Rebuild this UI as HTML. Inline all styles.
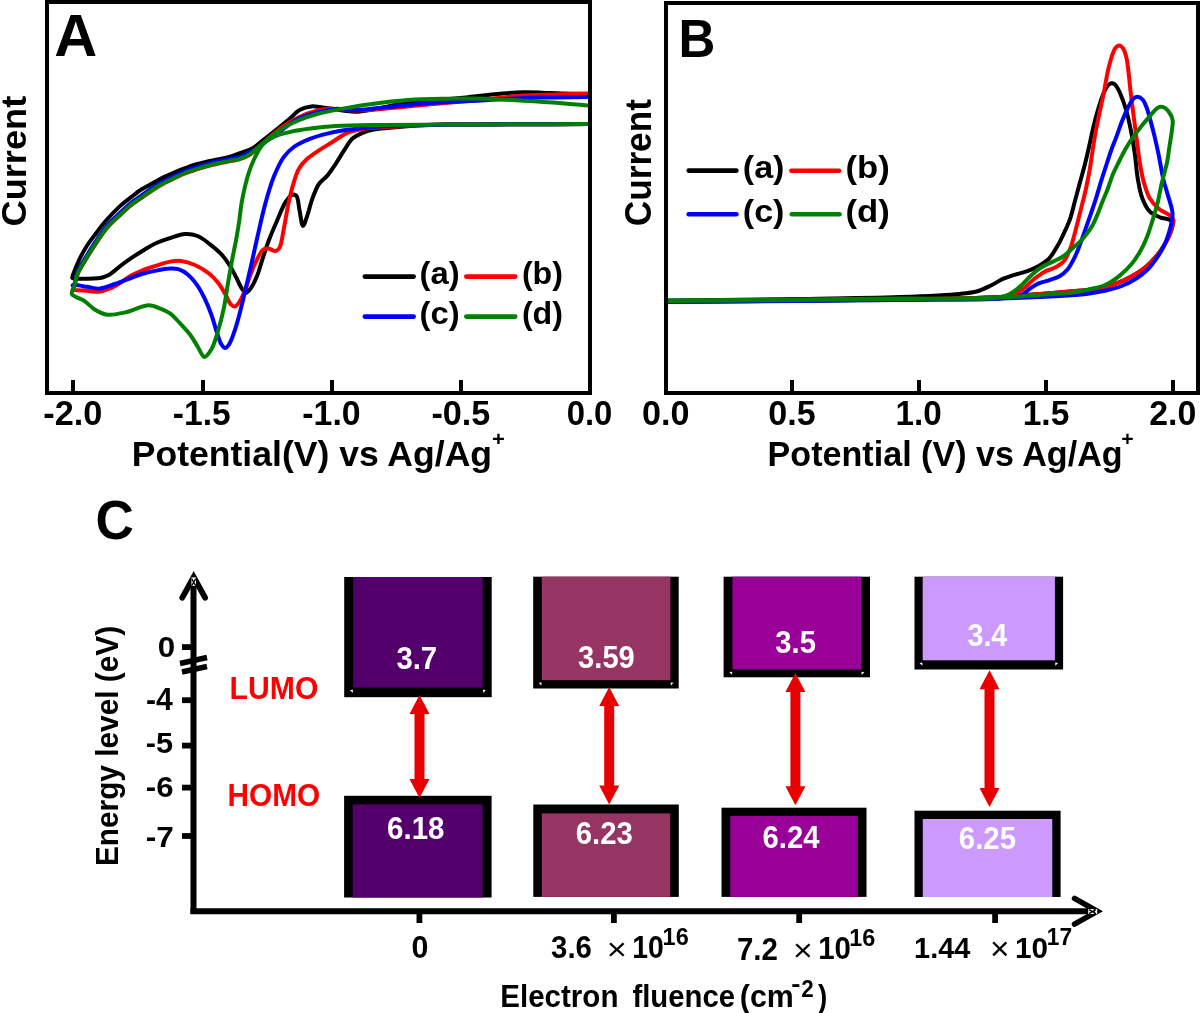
<!DOCTYPE html>
<html><head><meta charset="utf-8"><style>
html,body{margin:0;padding:0;background:#fff;}
body{width:1200px;height:1013px;overflow:hidden;font-family:"Liberation Sans",sans-serif;}
svg{display:block;will-change:transform;}
</style></head><body>
<svg width="1200" height="1013" viewBox="0 0 1200 1013">
<rect width="1200" height="1013" fill="#fff"/>
<defs>
<clipPath id="clipA"><rect x="49" y="4" width="539" height="387"/></clipPath>
<clipPath id="clipB"><rect x="668" y="5" width="528" height="386"/></clipPath>
</defs>
<rect x="47" y="2" width="543" height="391" fill="none" stroke="#000" stroke-width="4"/>
<line x1="73" y1="391" x2="73" y2="380" stroke="#000" stroke-width="4"/>
<line x1="203" y1="391" x2="203" y2="380" stroke="#000" stroke-width="4"/>
<line x1="332" y1="391" x2="332" y2="380" stroke="#000" stroke-width="4"/>
<line x1="461" y1="391" x2="461" y2="380" stroke="#000" stroke-width="4"/>
<path d="M592.00 93.60 C592.00 93.60 570.93 93.81 562.00 93.60 C554.80 93.43 548.98 92.92 542.50 92.70 C536.08 92.48 530.34 92.14 523.30 92.30 C514.69 92.49 504.16 93.34 494.60 94.20 C485.00 95.07 475.57 96.46 465.80 97.50 C455.71 98.57 445.28 99.49 435.00 100.50 C424.68 101.52 414.13 102.15 404.00 103.60 C394.14 105.01 383.66 107.56 375.00 109.00 C368.01 110.17 361.48 111.65 356.00 111.80 C351.84 111.92 348.67 111.28 345.00 110.80 C341.27 110.32 337.55 109.47 333.80 108.90 C330.05 108.33 326.26 107.82 322.50 107.40 C318.76 106.99 315.01 106.02 311.30 106.40 C307.50 106.79 303.56 107.84 300.00 109.80 C296.01 112.00 292.56 116.32 288.80 119.50 C285.06 122.66 281.36 125.69 277.50 128.80 C273.50 132.02 269.40 135.24 265.20 138.50 C260.84 141.88 256.39 146.15 251.80 148.70 C247.70 150.98 243.26 152.02 239.20 153.50 C235.45 154.87 231.96 156.29 228.30 157.30 C224.72 158.28 221.10 158.77 217.50 159.50 C213.90 160.23 210.30 160.89 206.70 161.70 C203.07 162.52 199.40 163.32 195.80 164.40 C192.17 165.49 188.59 166.86 185.00 168.20 C181.39 169.55 177.79 170.98 174.20 172.50 C170.56 174.04 166.89 175.62 163.30 177.40 C159.66 179.21 156.10 181.32 152.50 183.30 C148.90 185.29 145.23 187.02 141.70 189.30 C137.99 191.69 134.40 194.62 130.80 197.40 C127.16 200.21 123.78 202.63 120.00 206.10 C115.28 210.44 109.32 216.79 105.00 221.80 C101.35 226.03 98.59 229.88 95.50 234.00 C92.42 238.11 89.22 242.20 86.50 246.50 C83.82 250.74 81.36 255.33 79.30 259.60 C77.42 263.48 75.73 267.64 74.50 271.00 C73.55 273.59 71.67 276.91 72.30 278.00 C72.69 278.67 73.83 278.46 75.00 278.60 C77.11 278.84 80.92 278.70 84.00 278.70 C87.25 278.70 91.09 278.76 94.00 278.60 C96.26 278.48 98.11 278.36 100.00 278.00 C101.76 277.67 103.38 277.19 105.00 276.60 C106.61 276.02 107.86 275.62 109.70 274.50 C112.86 272.57 117.60 268.00 121.60 265.00 C125.50 262.08 129.54 259.27 133.40 256.70 C137.00 254.30 140.43 252.17 144.00 250.00 C147.56 247.84 150.80 245.58 154.80 243.70 C159.35 241.55 164.90 239.72 170.00 238.10 C175.03 236.50 180.37 234.25 185.20 234.00 C189.52 233.78 193.63 234.44 197.60 236.00 C201.93 237.70 206.07 241.29 210.00 244.30 C213.90 247.29 217.83 250.48 221.10 254.00 C224.27 257.40 226.88 261.12 229.40 265.00 C231.96 268.95 234.17 273.45 236.30 277.50 C238.28 281.26 239.86 285.81 241.80 288.50 C243.15 290.37 244.51 292.70 246.00 292.70 C247.71 292.70 249.83 289.52 251.50 287.20 C253.60 284.27 255.31 280.27 257.00 276.10 C259.04 271.08 260.60 264.77 262.50 259.00 C264.46 253.07 266.29 247.12 268.60 241.00 C271.08 234.44 274.15 227.44 277.00 220.90 C279.75 214.58 282.38 207.03 285.40 202.40 C287.52 199.14 289.92 195.64 292.10 194.90 C293.52 194.42 295.18 194.61 296.30 195.70 C298.42 197.77 298.48 205.77 299.60 210.80 C300.72 215.84 301.57 225.77 303.00 225.90 C304.19 226.01 305.84 219.71 307.20 215.90 C308.93 211.06 310.21 204.49 312.20 199.10 C314.13 193.87 316.09 188.10 318.90 184.00 C321.28 180.53 324.63 178.76 327.30 175.60 C330.25 172.11 332.96 167.90 335.70 163.80 C338.56 159.52 341.24 154.68 344.10 150.40 C346.84 146.30 349.20 141.60 352.50 138.60 C355.46 135.91 358.96 134.32 362.60 132.80 C366.43 131.21 370.33 130.28 375.00 129.40 C380.83 128.30 388.10 127.92 395.00 127.30 C402.39 126.64 409.90 126.04 418.00 125.60 C427.03 125.11 434.83 124.83 446.70 124.60 C466.09 124.22 498.46 124.42 523.30 124.30 C546.82 124.19 592.00 123.90 592.00 123.90" fill="none" stroke="#000" stroke-width="4.0" stroke-linejoin="round" stroke-linecap="round" clip-path="url(#clipA)"/>
<path d="M592.00 93.60 C592.00 93.60 566.86 94.17 555.00 94.50 C544.02 94.81 534.35 94.76 523.30 95.50 C511.12 96.31 498.92 98.07 485.00 99.40 C468.33 100.99 448.73 102.58 430.00 104.30 C410.43 106.10 384.65 109.20 370.00 110.00 C361.56 110.46 356.66 110.52 350.00 110.30 C343.33 110.08 336.17 108.42 330.00 108.70 C324.62 108.95 319.94 109.98 315.00 111.30 C309.94 112.65 304.57 114.75 300.00 116.80 C295.92 118.63 292.52 120.52 288.80 122.80 C284.85 125.22 280.71 128.15 277.00 131.00 C273.46 133.73 270.23 136.69 267.00 139.50 C263.91 142.19 260.92 144.93 258.00 147.50 C255.26 149.92 253.03 152.55 250.00 154.50 C246.80 156.56 242.88 158.23 239.20 159.40 C235.64 160.53 231.92 160.78 228.30 161.50 C224.69 162.22 221.09 162.89 217.50 163.70 C213.89 164.52 210.30 165.41 206.70 166.40 C203.06 167.40 199.41 168.53 195.80 169.70 C192.18 170.87 188.57 171.98 185.00 173.40 C181.37 174.84 177.79 176.60 174.20 178.30 C170.56 180.03 166.89 181.74 163.30 183.70 C159.65 185.70 156.06 187.88 152.50 190.20 C148.86 192.57 145.31 195.27 141.70 197.80 C138.08 200.34 134.34 202.58 130.80 205.40 C127.09 208.35 123.71 211.71 120.00 215.20 C115.93 219.03 111.35 222.90 107.40 227.50 C103.14 232.45 99.37 238.31 95.50 244.10 C91.46 250.16 86.91 257.65 83.70 263.10 C81.34 267.11 79.36 269.89 77.80 273.70 C76.15 277.72 75.28 283.83 74.20 286.70 C73.64 288.20 72.28 289.51 72.60 290.00 C72.88 290.43 74.15 289.87 75.40 289.90 C77.95 289.95 83.10 290.50 87.00 290.80 C90.97 291.10 95.12 292.11 99.00 291.70 C102.78 291.30 106.50 289.95 110.00 288.50 C113.50 287.05 116.63 285.05 120.00 283.00 C123.63 280.79 127.25 277.71 131.00 275.60 C134.59 273.58 138.15 272.03 142.00 270.50 C146.06 268.88 150.34 267.62 154.80 266.20 C159.64 264.66 165.30 262.45 170.00 261.60 C173.92 260.89 177.16 260.47 181.00 260.90 C185.40 261.39 190.40 263.02 194.90 265.00 C199.65 267.09 204.69 270.15 208.70 273.30 C212.40 276.20 215.53 279.50 218.30 283.00 C221.01 286.41 223.08 290.35 225.20 294.00 C227.23 297.48 228.74 302.38 230.80 304.40 C232.09 305.66 233.60 306.71 234.90 306.50 C236.38 306.27 237.75 304.17 239.10 302.30 C241.04 299.61 242.89 295.36 244.60 291.30 C246.60 286.57 248.19 280.50 250.10 275.50 C251.87 270.87 253.41 266.59 255.60 262.30 C257.85 257.89 260.69 251.27 263.50 249.40 C265.14 248.31 266.81 248.42 268.60 248.60 C270.71 248.81 273.40 251.40 275.30 251.10 C276.95 250.84 278.33 249.65 279.50 247.80 C281.71 244.31 282.31 236.06 283.70 229.30 C285.37 221.19 286.88 210.69 288.70 202.40 C290.28 195.19 291.93 188.28 293.80 182.30 C295.35 177.34 296.49 172.88 298.80 168.90 C301.01 165.09 303.95 161.83 307.20 158.80 C310.60 155.63 314.81 153.13 318.90 150.40 C323.19 147.53 327.91 144.80 332.40 142.00 C336.88 139.20 341.04 135.70 345.80 133.60 C350.54 131.51 355.92 130.39 360.90 129.40 C365.64 128.46 369.88 128.16 375.00 127.70 C381.08 127.15 387.96 126.89 395.00 126.50 C402.87 126.06 411.53 125.52 420.00 125.20 C428.75 124.87 435.51 124.75 446.70 124.60 C465.66 124.35 498.46 124.42 523.30 124.30 C546.82 124.19 592.00 123.90 592.00 123.90" fill="none" stroke="#ff0000" stroke-width="4.0" stroke-linejoin="round" stroke-linecap="round" clip-path="url(#clipA)"/>
<path d="M592.00 96.90 C592.00 96.90 566.86 97.31 555.00 97.50 C544.03 97.68 534.36 97.58 523.30 98.00 C511.13 98.46 499.06 99.52 485.00 100.30 C467.78 101.25 446.65 101.75 427.50 103.20 C408.32 104.65 384.23 107.86 370.00 109.00 C361.62 109.67 355.88 110.35 350.00 110.20 C345.34 110.08 341.85 108.68 337.50 108.80 C332.72 108.93 327.96 110.05 322.50 111.30 C315.72 112.85 306.04 115.25 300.00 117.90 C295.53 119.86 292.50 122.07 289.00 124.50 C285.50 126.93 282.46 129.94 279.00 132.50 C275.47 135.11 271.55 137.46 268.00 140.00 C264.56 142.46 261.21 145.38 258.00 147.50 C255.24 149.32 252.91 150.61 250.00 152.10 C246.71 153.79 242.88 155.83 239.20 157.00 C235.64 158.13 231.92 158.38 228.30 159.10 C224.69 159.82 221.09 160.49 217.50 161.30 C213.89 162.12 210.30 163.01 206.70 164.00 C203.06 165.00 199.41 166.13 195.80 167.30 C192.18 168.47 188.57 169.58 185.00 171.00 C181.37 172.44 177.79 174.20 174.20 175.90 C170.56 177.63 166.89 179.34 163.30 181.30 C159.65 183.30 156.06 185.48 152.50 187.80 C148.86 190.17 145.31 192.87 141.70 195.40 C138.08 197.94 134.34 200.18 130.80 203.00 C127.09 205.95 123.71 209.31 120.00 212.80 C115.93 216.63 111.35 220.50 107.40 225.10 C103.14 230.05 99.37 235.91 95.50 241.70 C91.46 247.76 86.91 255.25 83.70 260.70 C81.34 264.71 79.36 267.49 77.80 271.30 C76.15 275.32 75.56 282.47 74.20 284.30 C73.69 284.98 72.55 285.14 72.60 285.30 C72.66 285.49 74.15 285.05 75.40 285.10 C77.95 285.19 83.10 286.21 87.00 286.80 C90.97 287.40 94.75 288.97 99.00 288.70 C103.98 288.38 109.70 285.77 115.00 284.00 C120.37 282.21 126.16 279.79 131.00 278.00 C135.01 276.52 138.16 275.16 142.00 274.00 C146.07 272.77 150.33 271.79 154.80 270.90 C159.63 269.94 165.69 268.66 170.00 268.50 C173.17 268.38 175.52 268.34 178.30 269.20 C181.52 270.19 184.97 272.22 188.00 274.70 C191.47 277.55 194.83 281.85 197.60 285.80 C200.32 289.69 202.32 293.70 204.50 298.20 C206.95 303.27 209.33 309.11 211.40 314.80 C213.51 320.61 215.21 327.46 217.00 332.70 C218.42 336.86 219.39 341.13 221.10 343.80 C222.30 345.67 223.82 347.89 225.20 347.90 C226.59 347.91 228.10 345.76 229.40 343.80 C231.48 340.69 233.19 335.04 234.90 330.00 C236.90 324.13 238.63 317.39 240.40 310.60 C242.34 303.18 244.15 295.01 246.00 287.20 C247.85 279.38 249.69 271.65 251.50 263.70 C253.36 255.53 254.95 247.78 257.00 238.80 C259.43 228.18 262.24 214.87 265.20 204.10 C267.82 194.54 270.30 185.48 273.60 177.30 C276.56 169.96 279.85 162.44 283.70 157.10 C286.76 152.85 289.73 149.94 293.80 147.00 C298.45 143.64 304.82 140.85 310.50 138.60 C316.00 136.42 321.67 134.99 327.30 133.60 C332.87 132.23 337.63 131.29 344.10 130.30 C352.82 128.97 363.72 127.76 375.00 126.90 C388.58 125.87 406.94 125.37 420.00 125.00 C430.05 124.71 435.51 124.71 446.70 124.60 C465.66 124.42 498.46 124.42 523.30 124.30 C546.82 124.19 592.00 123.90 592.00 123.90" fill="none" stroke="#0000ff" stroke-width="4.0" stroke-linejoin="round" stroke-linecap="round" clip-path="url(#clipA)"/>
<path d="M592.00 105.80 C592.00 105.80 572.40 104.01 561.70 103.20 C549.66 102.29 536.09 101.43 523.30 100.70 C510.53 99.97 497.77 99.12 485.00 98.80 C472.24 98.48 459.47 98.60 446.70 98.80 C433.91 99.00 421.07 99.10 408.30 100.00 C395.51 100.90 381.50 102.64 370.00 104.20 C360.51 105.49 352.66 106.84 344.10 108.40 C335.63 109.94 326.77 111.40 318.90 113.50 C311.76 115.40 305.11 117.59 298.80 120.20 C292.86 122.66 287.15 125.42 282.00 128.60 C277.14 131.60 272.71 135.36 268.60 138.60 C264.95 141.47 261.72 144.32 258.50 147.00 C255.54 149.46 253.15 152.12 250.00 154.10 C246.74 156.15 242.88 157.83 239.20 159.00 C235.64 160.13 231.92 160.38 228.30 161.10 C224.69 161.82 221.09 162.49 217.50 163.30 C213.89 164.12 210.30 165.01 206.70 166.00 C203.06 167.00 199.41 168.13 195.80 169.30 C192.18 170.47 188.57 171.58 185.00 173.00 C181.37 174.44 177.79 176.20 174.20 177.90 C170.56 179.63 166.89 181.34 163.30 183.30 C159.65 185.30 156.06 187.48 152.50 189.80 C148.86 192.17 145.31 194.87 141.70 197.40 C138.08 199.94 134.34 202.18 130.80 205.00 C127.09 207.95 123.71 211.31 120.00 214.80 C115.93 218.63 111.35 222.50 107.40 227.10 C103.14 232.05 99.37 237.91 95.50 243.70 C91.46 249.76 86.91 257.25 83.70 262.70 C81.34 266.71 79.36 269.49 77.80 273.30 C76.15 277.32 75.31 282.54 74.20 286.30 C73.34 289.21 71.18 292.16 71.80 294.00 C72.29 295.47 74.33 296.04 76.00 297.00 C78.13 298.23 80.97 298.82 83.70 300.50 C87.35 302.75 91.37 307.60 95.50 310.00 C99.30 312.21 102.96 314.15 107.40 314.70 C112.66 315.36 118.91 313.74 125.20 312.40 C132.57 310.83 142.26 305.32 148.80 305.30 C153.44 305.29 157.03 307.37 160.70 308.80 C164.05 310.11 166.95 311.21 170.00 313.40 C173.74 316.08 177.51 320.67 181.00 324.40 C184.40 328.04 187.87 331.69 190.70 335.50 C193.36 339.07 195.28 342.90 197.60 346.50 C199.88 350.03 202.08 356.72 204.50 356.90 C206.70 357.07 209.38 352.67 211.40 349.30 C214.26 344.54 216.26 336.70 218.30 330.00 C220.45 322.93 222.31 315.52 223.90 307.90 C225.57 299.88 226.60 291.18 228.00 283.00 C229.37 275.05 230.77 267.08 232.20 259.50 C233.54 252.37 235.10 245.42 236.30 238.80 C237.40 232.73 238.31 227.25 239.20 221.30 C240.12 215.13 240.43 209.31 241.70 202.40 C243.27 193.84 245.83 182.07 248.40 173.90 C250.42 167.48 252.47 162.27 255.10 157.10 C257.56 152.26 260.14 147.15 263.50 143.70 C266.44 140.68 269.65 138.86 273.60 137.00 C278.35 134.76 284.50 133.27 290.40 131.90 C296.75 130.42 303.41 129.53 310.50 128.60 C318.41 127.56 326.36 126.71 335.70 126.10 C347.34 125.35 359.94 125.16 375.00 124.90 C395.33 124.55 422.41 124.70 446.70 124.60 C471.81 124.50 498.46 124.42 523.30 124.30 C546.82 124.19 592.00 123.90 592.00 123.90" fill="none" stroke="#008000" stroke-width="4.0" stroke-linejoin="round" stroke-linecap="round" clip-path="url(#clipA)"/>
<text transform="translate(54.21,56.39) scale(1.0174,1)" font-size="58.53" font-weight="bold" fill="#000" font-family="Liberation Sans, sans-serif">A</text>
<text transform="translate(25.55,226.45) rotate(-90) scale(1.0201,1)" font-size="35.49" font-weight="bold" fill="#000" font-family="Liberation Sans, sans-serif">Current</text>
<text transform="translate(43.33,425.45) scale(0.9913,1)" font-size="34.51" font-weight="bold" fill="#000" font-family="Liberation Sans, sans-serif">-2.0</text>
<text transform="translate(172.86,425.45) scale(0.9604,1)" font-size="35.00" font-weight="bold" fill="#000" font-family="Liberation Sans, sans-serif">-1.5</text>
<text transform="translate(302.35,425.45) scale(0.9807,1)" font-size="34.51" font-weight="bold" fill="#000" font-family="Liberation Sans, sans-serif">-1.0</text>
<text transform="translate(431.43,425.45) scale(0.9916,1)" font-size="34.51" font-weight="bold" fill="#000" font-family="Liberation Sans, sans-serif">-0.5</text>
<text transform="translate(566.69,425.45) scale(0.9512,1)" font-size="34.51" font-weight="bold" fill="#000" font-family="Liberation Sans, sans-serif">0.0</text>
<text transform="translate(131.71,465.90) scale(1.0112,1)" font-size="35.20" font-weight="bold" fill="#000" font-family="Liberation Sans, sans-serif">Potential(V) vs Ag/Ag</text>
<text transform="translate(492.12,446.15) scale(1.0686,1)" font-size="20.59" font-weight="bold" fill="#000" font-family="Liberation Sans, sans-serif">+</text>
<line x1="364.8" y1="276.6" x2="413.7" y2="276.6" stroke="#000" stroke-width="4.6" stroke-linecap="round"/>
<line x1="466.3" y1="276.6" x2="515.2" y2="276.6" stroke="#ff0000" stroke-width="4.6" stroke-linecap="round"/>
<line x1="364.8" y1="316.6" x2="413.7" y2="316.6" stroke="#0000ff" stroke-width="4.6" stroke-linecap="round"/>
<line x1="466.3" y1="316.6" x2="515.2" y2="316.6" stroke="#008000" stroke-width="4.6" stroke-linecap="round"/>
<text transform="translate(419.56,284.40) scale(1.0773,1)" font-size="30.50" font-weight="bold" fill="#000" font-family="Liberation Sans, sans-serif">(a)</text>
<text transform="translate(521.89,284.40) scale(1.0558,1)" font-size="30.50" font-weight="bold" fill="#000" font-family="Liberation Sans, sans-serif">(b)</text>
<text transform="translate(419.56,324.40) scale(1.0773,1)" font-size="30.50" font-weight="bold" fill="#000" font-family="Liberation Sans, sans-serif">(c)</text>
<text transform="translate(521.89,324.40) scale(1.0558,1)" font-size="30.50" font-weight="bold" fill="#000" font-family="Liberation Sans, sans-serif">(d)</text>
<rect x="666" y="3" width="532" height="390" fill="none" stroke="#000" stroke-width="4"/>
<line x1="792" y1="391" x2="792" y2="380" stroke="#000" stroke-width="4"/>
<line x1="919" y1="391" x2="919" y2="380" stroke="#000" stroke-width="4"/>
<line x1="1046" y1="391" x2="1046" y2="380" stroke="#000" stroke-width="4"/>
<line x1="1173" y1="391" x2="1173" y2="380" stroke="#000" stroke-width="4"/>
<path d="M668.00 300.50 C668.00 300.50 759.05 299.64 800.00 299.00 C835.64 298.44 870.91 298.04 900.00 297.00 C922.55 296.19 946.02 295.34 960.00 293.90 C967.57 293.12 972.10 292.69 977.40 291.20 C982.14 289.87 986.12 287.85 990.40 285.80 C994.79 283.70 999.18 280.57 1003.40 278.70 C1007.12 277.05 1010.49 276.12 1014.30 274.90 C1018.43 273.58 1023.21 272.61 1027.30 271.10 C1031.15 269.68 1034.67 268.21 1038.20 266.20 C1041.91 264.09 1045.85 261.83 1049.00 258.60 C1052.43 255.09 1055.13 250.02 1057.70 245.60 C1060.18 241.34 1062.15 237.00 1064.20 232.60 C1066.26 228.17 1068.29 223.97 1070.00 219.10 C1071.92 213.64 1073.27 207.31 1074.90 201.30 C1076.57 195.15 1078.23 188.75 1079.90 182.60 C1081.53 176.59 1083.35 170.47 1084.80 164.80 C1086.12 159.65 1086.94 155.84 1088.30 150.00 C1090.26 141.56 1092.75 128.73 1095.40 119.00 C1097.80 110.17 1100.70 100.05 1103.30 94.00 C1104.88 90.32 1106.36 87.31 1108.00 85.50 C1109.04 84.36 1110.08 83.49 1111.20 83.30 C1112.25 83.12 1113.52 83.55 1114.50 84.20 C1115.67 84.97 1116.61 86.60 1117.50 88.00 C1118.46 89.51 1119.06 90.82 1120.00 93.00 C1121.65 96.82 1124.15 103.32 1125.90 109.20 C1127.92 115.96 1129.61 123.98 1131.10 131.40 C1132.58 138.78 1133.71 145.95 1134.80 153.60 C1135.96 161.72 1136.45 171.00 1137.80 178.80 C1138.99 185.67 1140.03 192.31 1142.20 198.00 C1144.12 203.02 1146.36 208.12 1149.60 211.40 C1152.46 214.30 1156.45 215.82 1160.00 217.30 C1163.36 218.70 1168.26 218.62 1170.30 220.20 C1171.61 221.21 1172.27 222.40 1172.50 224.00 C1172.84 226.33 1171.43 229.96 1170.30 233.10 C1168.98 236.76 1166.90 240.79 1164.70 244.50 C1162.40 248.37 1159.77 252.15 1156.70 255.80 C1153.40 259.73 1149.53 263.80 1145.40 267.20 C1141.23 270.64 1136.71 273.55 1131.80 276.30 C1126.53 279.25 1120.48 282.10 1114.70 284.20 C1109.11 286.23 1103.83 287.68 1097.70 288.80 C1090.73 290.07 1083.38 290.23 1075.00 291.00 C1064.59 291.95 1052.06 293.03 1040.00 294.00 C1027.11 295.04 1016.35 296.18 1000.00 297.00 C974.18 298.29 940.25 298.80 900.00 299.50 C838.70 300.57 668.00 301.80 668.00 301.80" fill="none" stroke="#000" stroke-width="4.0" stroke-linejoin="round" stroke-linecap="round" clip-path="url(#clipB)"/>
<path d="M668.00 301.80 C668.00 301.80 839.08 300.42 900.00 299.50 C939.60 298.90 980.06 298.95 998.00 297.50 C1004.84 296.95 1007.84 297.00 1012.10 295.50 C1016.12 294.08 1019.50 291.58 1023.00 289.00 C1026.75 286.24 1030.10 282.23 1033.80 279.30 C1037.34 276.49 1040.96 273.73 1044.70 271.70 C1048.21 269.79 1052.20 269.16 1055.50 267.30 C1058.68 265.50 1061.87 263.58 1064.20 260.80 C1066.67 257.85 1068.42 252.85 1069.70 249.90 C1070.54 247.97 1070.82 247.12 1071.50 245.00 C1072.71 241.22 1074.42 234.63 1075.90 229.00 C1077.55 222.76 1079.25 215.79 1080.90 209.20 C1082.55 202.63 1084.33 196.09 1085.80 189.50 C1087.26 182.93 1088.55 176.30 1089.70 169.70 C1090.85 163.14 1091.65 156.59 1092.70 150.00 C1093.75 143.36 1094.58 137.57 1096.00 130.00 C1097.88 119.96 1101.02 106.26 1103.30 95.10 C1105.40 84.83 1106.91 73.94 1109.20 65.50 C1110.97 58.98 1112.76 51.70 1115.10 48.50 C1116.33 46.81 1117.76 45.51 1119.10 45.50 C1120.46 45.49 1122.08 46.98 1123.20 48.50 C1124.78 50.64 1125.61 54.31 1126.50 58.00 C1127.67 62.88 1128.23 69.85 1128.90 75.40 C1129.51 80.47 1129.75 84.29 1130.40 90.00 C1131.33 98.15 1132.93 110.44 1134.10 119.60 C1135.11 127.53 1136.02 134.40 1137.00 141.80 C1137.98 149.20 1138.81 157.03 1140.00 164.00 C1141.08 170.28 1142.07 176.06 1143.70 181.80 C1145.29 187.39 1146.91 193.40 1149.60 198.00 C1151.99 202.10 1155.07 205.44 1158.50 208.40 C1161.96 211.38 1167.73 213.45 1170.30 215.80 C1171.88 217.25 1173.10 218.38 1173.50 220.00 C1173.93 221.74 1172.99 223.93 1172.50 226.00 C1171.96 228.28 1171.33 230.50 1170.30 233.10 C1168.95 236.50 1166.90 240.79 1164.70 244.50 C1162.40 248.37 1159.77 252.15 1156.70 255.80 C1153.40 259.73 1149.53 263.80 1145.40 267.20 C1141.23 270.64 1136.71 273.55 1131.80 276.30 C1126.53 279.25 1120.48 282.10 1114.70 284.20 C1109.11 286.23 1103.83 287.68 1097.70 288.80 C1090.73 290.07 1083.38 290.23 1075.00 291.00 C1064.59 291.95 1052.06 293.03 1040.00 294.00 C1027.11 295.04 1016.35 296.18 1000.00 297.00 C974.18 298.29 940.25 298.80 900.00 299.50 C838.70 300.57 668.00 301.80 668.00 301.80" fill="none" stroke="#ff0000" stroke-width="4.0" stroke-linejoin="round" stroke-linecap="round" clip-path="url(#clipB)"/>
<path d="M668.00 302.00 C668.00 302.00 836.93 300.85 900.00 300.00 C943.43 299.42 992.56 300.15 1010.00 298.00 C1015.54 297.32 1017.54 297.01 1020.80 295.50 C1024.03 294.00 1026.56 291.01 1029.50 289.00 C1032.36 287.05 1035.04 285.03 1038.20 283.60 C1041.52 282.10 1045.42 281.55 1049.00 280.30 C1052.65 279.02 1056.73 277.91 1059.90 276.00 C1062.83 274.24 1065.25 272.16 1067.50 269.50 C1070.03 266.50 1072.19 262.07 1074.00 258.60 C1075.56 255.61 1076.53 253.34 1077.90 250.00 C1079.74 245.50 1081.85 239.33 1083.80 233.90 C1085.79 228.37 1087.74 222.78 1089.70 217.10 C1091.71 211.28 1093.76 205.48 1095.70 199.40 C1097.74 193.00 1099.64 185.90 1101.60 179.60 C1103.40 173.81 1105.30 168.19 1107.00 163.00 C1108.51 158.40 1109.79 154.19 1111.30 150.00 C1112.73 146.00 1114.20 142.66 1115.80 138.40 C1117.75 133.22 1119.99 126.39 1122.10 121.10 C1123.93 116.51 1125.63 112.27 1127.60 108.40 C1129.36 104.94 1131.22 100.80 1133.20 98.90 C1134.45 97.69 1135.68 96.81 1137.10 96.80 C1138.80 96.79 1141.18 98.16 1142.70 99.70 C1144.49 101.53 1145.41 104.56 1146.60 107.60 C1148.11 111.45 1149.31 116.47 1150.60 121.10 C1151.95 125.96 1153.24 130.85 1154.50 136.10 C1155.88 141.84 1157.30 148.36 1158.50 154.20 C1159.62 159.64 1160.59 165.33 1161.50 170.00 C1162.22 173.71 1162.63 176.43 1163.50 180.00 C1164.52 184.20 1166.04 188.67 1167.40 193.60 C1169.01 199.44 1172.07 207.22 1172.50 212.80 C1172.82 217.00 1172.02 220.28 1171.30 224.00 C1170.57 227.81 1169.38 231.63 1168.10 235.40 C1166.79 239.24 1165.36 243.08 1163.50 246.80 C1161.58 250.65 1159.27 254.41 1156.70 258.10 C1154.00 261.98 1151.01 266.09 1147.60 269.50 C1144.21 272.89 1140.54 275.78 1136.30 278.50 C1131.59 281.52 1125.90 284.41 1120.40 286.50 C1114.93 288.57 1109.09 289.76 1103.40 291.00 C1097.76 292.22 1091.51 293.22 1086.40 293.90 C1082.23 294.46 1079.84 294.63 1075.00 295.00 C1066.53 295.65 1052.06 296.43 1040.00 297.00 C1027.11 297.61 1016.34 298.07 1000.00 298.50 C974.17 299.18 940.25 299.52 900.00 300.00 C838.70 300.72 668.00 302.00 668.00 302.00" fill="none" stroke="#0000ff" stroke-width="4.0" stroke-linejoin="round" stroke-linecap="round" clip-path="url(#clipB)"/>
<path d="M668.00 300.50 C668.00 300.50 839.07 299.01 900.00 298.50 C939.60 298.17 981.74 300.10 998.00 297.70 C1003.54 296.88 1005.41 296.18 1008.90 294.50 C1012.66 292.68 1016.21 289.83 1019.70 286.90 C1023.47 283.73 1026.88 279.34 1030.60 276.00 C1034.13 272.83 1037.66 269.69 1041.40 267.30 C1044.91 265.06 1048.68 263.70 1052.30 261.90 C1055.91 260.10 1059.72 258.79 1063.10 256.50 C1066.64 254.10 1069.99 250.33 1073.00 247.70 C1075.50 245.52 1077.68 244.00 1079.90 241.80 C1082.29 239.44 1084.67 236.69 1086.80 233.90 C1088.94 231.09 1090.94 228.19 1092.70 225.00 C1094.56 221.64 1096.01 217.98 1097.60 214.20 C1099.32 210.11 1100.92 205.49 1102.60 201.30 C1104.22 197.27 1105.91 193.66 1107.50 189.50 C1109.25 184.94 1110.68 179.65 1112.60 175.00 C1114.46 170.50 1116.72 166.22 1118.80 162.00 C1120.79 157.96 1122.53 154.20 1124.80 150.20 C1127.28 145.84 1130.35 140.99 1133.20 136.90 C1135.79 133.18 1138.43 129.94 1141.10 126.60 C1143.70 123.34 1146.33 120.17 1149.00 117.10 C1151.60 114.11 1154.62 110.05 1156.90 108.40 C1158.22 107.45 1159.18 106.88 1160.50 106.80 C1162.04 106.71 1164.02 107.30 1165.60 108.40 C1167.64 109.82 1169.91 113.20 1171.10 115.50 C1172.03 117.31 1172.48 118.74 1172.70 120.80 C1172.99 123.53 1172.32 126.88 1171.90 130.50 C1171.36 135.14 1170.30 141.03 1169.50 146.30 C1168.70 151.57 1168.05 157.35 1167.10 162.10 C1166.31 166.06 1165.33 169.22 1164.40 172.90 C1163.43 176.75 1162.40 180.35 1161.40 184.70 C1160.17 190.01 1159.16 196.60 1157.70 202.50 C1156.23 208.44 1154.44 214.31 1152.60 220.20 C1150.74 226.15 1148.75 232.68 1146.60 238.00 C1144.78 242.51 1143.11 246.11 1140.80 250.20 C1138.26 254.70 1135.22 259.64 1131.80 263.80 C1128.41 267.93 1124.54 271.71 1120.40 275.10 C1116.22 278.52 1111.60 281.91 1106.80 284.20 C1102.12 286.43 1097.14 287.49 1092.00 288.80 C1086.56 290.18 1081.71 291.26 1075.00 292.20 C1065.45 293.53 1052.06 294.14 1040.00 295.00 C1027.12 295.92 1016.34 296.87 1000.00 297.50 C974.18 298.50 940.25 298.52 900.00 299.00 C838.70 299.72 668.00 301.00 668.00 301.00" fill="none" stroke="#008000" stroke-width="4.0" stroke-linejoin="round" stroke-linecap="round" clip-path="url(#clipB)"/>
<text transform="translate(678.53,56.80) scale(0.9559,1)" font-size="53.33" font-weight="bold" fill="#000" font-family="Liberation Sans, sans-serif">B</text>
<text transform="translate(651.34,226.21) rotate(-90) scale(0.9762,1)" font-size="36.06" font-weight="bold" fill="#000" font-family="Liberation Sans, sans-serif">Current</text>
<text transform="translate(641.94,425.36) scale(0.9929,1)" font-size="34.37" font-weight="bold" fill="#000" font-family="Liberation Sans, sans-serif">0.0</text>
<text transform="translate(768.34,425.36) scale(0.9920,1)" font-size="34.37" font-weight="bold" fill="#000" font-family="Liberation Sans, sans-serif">0.5</text>
<text transform="translate(895.51,425.36) scale(0.9654,1)" font-size="34.37" font-weight="bold" fill="#000" font-family="Liberation Sans, sans-serif">1.0</text>
<text transform="translate(1022.69,425.35) scale(0.9622,1)" font-size="34.86" font-weight="bold" fill="#000" font-family="Liberation Sans, sans-serif">1.5</text>
<text transform="translate(1149.28,425.36) scale(0.9854,1)" font-size="34.37" font-weight="bold" fill="#000" font-family="Liberation Sans, sans-serif">2.0</text>
<text transform="translate(767.61,466.20) scale(0.9751,1)" font-size="35.00" font-weight="bold" fill="#000" font-family="Liberation Sans, sans-serif">Potential (V) vs Ag/Ag</text>
<text transform="translate(1121.35,446.37) scale(1.0812,1)" font-size="19.61" font-weight="bold" fill="#000" font-family="Liberation Sans, sans-serif">+</text>
<line x1="688.7" y1="170.6" x2="736.4" y2="170.6" stroke="#000" stroke-width="4.6" stroke-linecap="round"/>
<line x1="791.4" y1="170.8" x2="839.1" y2="170.8" stroke="#ff0000" stroke-width="4.6" stroke-linecap="round"/>
<line x1="688.7" y1="214.2" x2="736.4" y2="214.2" stroke="#0000ff" stroke-width="4.6" stroke-linecap="round"/>
<line x1="791.8" y1="214.2" x2="839.5" y2="214.2" stroke="#008000" stroke-width="4.6" stroke-linecap="round"/>
<text transform="translate(742.79,178.40) scale(1.0897,1)" font-size="31.30" font-weight="bold" fill="#000" font-family="Liberation Sans, sans-serif">(a)</text>
<text transform="translate(845.47,178.40) scale(1.1074,1)" font-size="31.30" font-weight="bold" fill="#000" font-family="Liberation Sans, sans-serif">(b)</text>
<text transform="translate(742.79,221.60) scale(1.0897,1)" font-size="31.30" font-weight="bold" fill="#000" font-family="Liberation Sans, sans-serif">(c)</text>
<text transform="translate(845.47,221.60) scale(1.1074,1)" font-size="31.30" font-weight="bold" fill="#000" font-family="Liberation Sans, sans-serif">(d)</text>
<text transform="translate(95.38,539.15) scale(0.9565,1)" font-size="55.49" font-weight="bold" fill="#000" font-family="Liberation Sans, sans-serif">C</text>
<line x1="193.5" y1="578" x2="193.5" y2="914" stroke="#000" stroke-width="6"/>
<polyline points="182.3,597.6 193.7,577 205.1,597.6" fill="none" stroke="#000" stroke-width="5.8" stroke-linecap="round" stroke-linejoin="miter" stroke-miterlimit="10"/>
<rect x="191.4" y="577.4" width="4.6" height="8.6" fill="#fff"/>
<path d="M191.6 578.6 L195.8 585.8 M195.8 578.6 L191.6 585.8" stroke="#000" stroke-width="1.3"/>
<line x1="190.5" y1="911.2" x2="1096" y2="911.2" stroke="#000" stroke-width="6"/>
<polyline points="1074.5,898.4 1097.4,911.3 1074.5,924.2" fill="none" stroke="#000" stroke-width="5.5" stroke-linecap="round" stroke-linejoin="miter" stroke-miterlimit="10"/>
<rect x="1088.2" y="909" width="9" height="5" fill="#fff"/>
<path d="M1089 909.6 L1096 913.6 M1089 913.6 L1096 909.6" stroke="#000" stroke-width="1.3"/>
<line x1="1094.3" y1="909" x2="1094.3" y2="914" stroke="#000" stroke-width="1"/>
<line x1="419.4" y1="913" x2="419.4" y2="923" stroke="#000" stroke-width="5.8"/>
<line x1="613.9" y1="913" x2="613.9" y2="923" stroke="#000" stroke-width="5.8"/>
<line x1="799.2" y1="913" x2="799.2" y2="923" stroke="#000" stroke-width="5.8"/>
<line x1="995.1" y1="913" x2="995.1" y2="923" stroke="#000" stroke-width="5.8"/>
<line x1="182" y1="647.1" x2="193" y2="647.1" stroke="#000" stroke-width="5.8"/>
<line x1="182" y1="700.2" x2="193" y2="700.2" stroke="#000" stroke-width="5.8"/>
<line x1="182" y1="745.6" x2="193" y2="745.6" stroke="#000" stroke-width="5.8"/>
<line x1="182" y1="787.6" x2="193" y2="787.6" stroke="#000" stroke-width="5.8"/>
<line x1="182" y1="836.0" x2="193" y2="836.0" stroke="#000" stroke-width="5.8"/>
<text transform="translate(157.85,657.10) scale(1.0377,1)" font-size="30.14" font-weight="bold" fill="#000" font-family="Liberation Sans, sans-serif">0</text>
<text transform="translate(145.90,710.40) scale(0.9757,1)" font-size="30.87" font-weight="bold" fill="#000" font-family="Liberation Sans, sans-serif">-4</text>
<text transform="translate(145.87,753.40) scale(1.0392,1)" font-size="29.57" font-weight="bold" fill="#000" font-family="Liberation Sans, sans-serif">-5</text>
<text transform="translate(145.86,797.31) scale(1.0620,1)" font-size="29.30" font-weight="bold" fill="#000" font-family="Liberation Sans, sans-serif">-6</text>
<text transform="translate(145.84,846.50) scale(1.0604,1)" font-size="29.71" font-weight="bold" fill="#000" font-family="Liberation Sans, sans-serif">-7</text>
<line x1="180" y1="663.5" x2="207" y2="657.5" stroke="#000" stroke-width="5.5"/>
<line x1="182" y1="672" x2="207" y2="666.5" stroke="#000" stroke-width="5.5"/>
<text transform="translate(229.59,699.40) scale(0.9894,1)" font-size="30.50" font-weight="bold" fill="#ff0000" font-family="Liberation Sans, sans-serif">LUMO</text>
<text transform="translate(227.61,805.80) scale(0.9770,1)" font-size="30.50" font-weight="bold" fill="#ff0000" font-family="Liberation Sans, sans-serif">HOMO</text>
<text transform="translate(118.35,866.09) rotate(-90) scale(0.9564,1)" font-size="31.17" font-weight="bold" fill="#000" font-family="Liberation Sans, sans-serif">Energy level (eV)</text>
<rect x="344.2" y="577.0" width="147.5" height="120.2" fill="#000"/>
<rect x="353.2" y="577.0" width="129.5" height="110.5" fill="#54006c"/>
<rect x="344.1" y="795.8" width="147.5" height="101.7" fill="#000"/>
<rect x="352.7" y="804.4" width="129.8" height="93.1" fill="#54006c"/>
<polygon points="419.5,695.0 429.5,714.0 424.5,714.0 424.5,779.0 429.5,779.0 419.5,798.0 409.5,779.0 414.5,779.0 414.5,714.0 409.5,714.0" fill="#e80000"/>
<polygon points="350.0,690.1 352.9,689.7 352.8,692.9" fill="#fff"/>
<polygon points="485.9,690.1 483.0,689.7 483.1,692.9" fill="#fff"/>
<rect x="533.2" y="576.7" width="145.5" height="111.8" fill="#000"/>
<rect x="541.8" y="576.7" width="128.6" height="103.5" fill="#963464"/>
<rect x="533.3" y="804.5" width="145.5" height="92.4" fill="#000"/>
<rect x="541.8" y="813.4" width="128.4" height="83.5" fill="#963464"/>
<polygon points="609.2,687.0 619.2,706.0 614.2,706.0 614.2,785.5 619.2,785.5 609.2,804.5 599.2,785.5 604.2,785.5 604.2,706.0 599.2,706.0" fill="#e80000"/>
<polygon points="538.6,682.8 541.5,682.4 541.4,685.6" fill="#fff"/>
<polygon points="673.6,682.8 670.7,682.4 670.8,685.6" fill="#fff"/>
<rect x="723.6" y="576.7" width="146.4" height="100.6" fill="#000"/>
<rect x="732.5" y="576.7" width="128.7" height="92.8" fill="#980098"/>
<rect x="721.5" y="807.7" width="145.0" height="89.2" fill="#000"/>
<rect x="730.3" y="816.0" width="127.5" height="80.9" fill="#980098"/>
<polygon points="795.4,673.0 805.4,692.0 800.4,692.0 800.4,786.2 805.4,786.2 795.4,805.2 785.4,786.2 790.4,786.2 790.4,692.0 785.4,692.0" fill="#e80000"/>
<polygon points="729.3,672.1 732.2,671.7 732.1,674.9" fill="#fff"/>
<polygon points="864.4,672.1 861.5,671.7 861.6,674.9" fill="#fff"/>
<rect x="914.5" y="576.7" width="148.6" height="92.8" fill="#000"/>
<rect x="922.7" y="576.7" width="132.2" height="83.6" fill="#cc99ff"/>
<rect x="914.5" y="810.7" width="146.1" height="86.3" fill="#000"/>
<rect x="922.8" y="819.0" width="129.5" height="78.0" fill="#cc99ff"/>
<polygon points="989.5,670.2 999.5,689.2 994.5,689.2 994.5,788.1 999.5,788.1 989.5,807.1 979.5,788.1 984.5,788.1 984.5,689.2 979.5,689.2" fill="#e80000"/>
<polygon points="919.5,662.9 922.4,662.5 922.3,665.7" fill="#fff"/>
<polygon points="1058.1,662.9 1055.2,662.5 1055.3,665.7" fill="#fff"/>
<text transform="translate(396.41,668.69) scale(0.9336,1)" font-size="31.41" font-weight="bold" fill="#fff" font-family="Liberation Sans, sans-serif">3.7</text>
<text transform="translate(387.02,839.49) scale(0.9484,1)" font-size="31.13" font-weight="bold" fill="#fff" font-family="Liberation Sans, sans-serif">6.18</text>
<text transform="translate(578.12,667.99) scale(0.9392,1)" font-size="30.99" font-weight="bold" fill="#fff" font-family="Liberation Sans, sans-serif">3.59</text>
<text transform="translate(575.73,844.39) scale(0.9544,1)" font-size="30.70" font-weight="bold" fill="#fff" font-family="Liberation Sans, sans-serif">6.23</text>
<text transform="translate(775.32,652.69) scale(0.9417,1)" font-size="30.99" font-weight="bold" fill="#fff" font-family="Liberation Sans, sans-serif">3.5</text>
<text transform="translate(762.53,847.69) scale(0.9575,1)" font-size="30.56" font-weight="bold" fill="#fff" font-family="Liberation Sans, sans-serif">6.24</text>
<text transform="translate(967.43,645.69) scale(0.9258,1)" font-size="30.99" font-weight="bold" fill="#fff" font-family="Liberation Sans, sans-serif">3.4</text>
<text transform="translate(958.82,848.69) scale(0.9624,1)" font-size="30.56" font-weight="bold" fill="#fff" font-family="Liberation Sans, sans-serif">6.25</text>
<text transform="translate(411.48,958.09) scale(0.9909,1)" font-size="30.70" font-weight="bold" fill="#000" font-family="Liberation Sans, sans-serif">0</text>
<text transform="translate(551.11,958.09) scale(0.9594,1)" font-size="30.56" font-weight="bold" fill="#000" font-family="Liberation Sans, sans-serif">3.6</text>
<text transform="translate(606.68,959.50) scale(1.0857,1)" font-size="31.82" font-weight="normal" fill="#000" font-family="Liberation Sans, sans-serif">×</text>
<text transform="translate(632.30,958.09) scale(0.9297,1)" font-size="30.56" font-weight="bold" fill="#000" font-family="Liberation Sans, sans-serif">10</text>
<text transform="translate(662.59,945.06) scale(0.9800,1)" font-size="23.94" font-weight="bold" fill="#000" font-family="Liberation Sans, sans-serif">16</text>
<text transform="translate(736.92,959.70) scale(0.9505,1)" font-size="31.00" font-weight="bold" fill="#000" font-family="Liberation Sans, sans-serif">7.2</text>
<text transform="translate(793.03,961.08) scale(1.0719,1)" font-size="31.59" font-weight="normal" fill="#000" font-family="Liberation Sans, sans-serif">×</text>
<text transform="translate(818.13,959.39) scale(0.9654,1)" font-size="30.56" font-weight="bold" fill="#000" font-family="Liberation Sans, sans-serif">10</text>
<text transform="translate(849.19,946.46) scale(0.9743,1)" font-size="24.08" font-weight="bold" fill="#000" font-family="Liberation Sans, sans-serif">16</text>
<text transform="translate(914.06,957.80) scale(0.9508,1)" font-size="30.43" font-weight="bold" fill="#000" font-family="Liberation Sans, sans-serif">1.44</text>
<text transform="translate(989.96,959.57) scale(1.0280,1)" font-size="32.50" font-weight="normal" fill="#000" font-family="Liberation Sans, sans-serif">×</text>
<text transform="translate(1014.92,957.50) scale(1.0042,1)" font-size="29.58" font-weight="bold" fill="#000" font-family="Liberation Sans, sans-serif">10</text>
<text transform="translate(1046.83,944.70) scale(0.9523,1)" font-size="23.91" font-weight="bold" fill="#000" font-family="Liberation Sans, sans-serif">17</text>
<text transform="translate(500.23,1006.70) scale(0.9692,1)" font-size="30.50" font-weight="bold" fill="#000" font-family="Liberation Sans, sans-serif">Electron</text>
<text transform="translate(632.41,1006.70) scale(0.9617,1)" font-size="30.50" font-weight="bold" fill="#000" font-family="Liberation Sans, sans-serif">fluence</text>
<text transform="translate(739.78,1006.70) scale(0.9954,1)" font-size="30.50" font-weight="bold" fill="#000" font-family="Liberation Sans, sans-serif">(cm</text>
<text transform="translate(791.20,991.67) scale(1.1829,1)" font-size="23.33" font-weight="bold" fill="#000" font-family="Liberation Sans, sans-serif">-</text>
<text transform="translate(801.33,996.60) scale(0.9524,1)" font-size="23.57" font-weight="bold" fill="#000" font-family="Liberation Sans, sans-serif">2</text>
<text transform="translate(818.00,1006.70) scale(0.9133,1)" font-size="30.50" font-weight="bold" fill="#000" font-family="Liberation Sans, sans-serif">)</text>
</svg>
</body></html>
